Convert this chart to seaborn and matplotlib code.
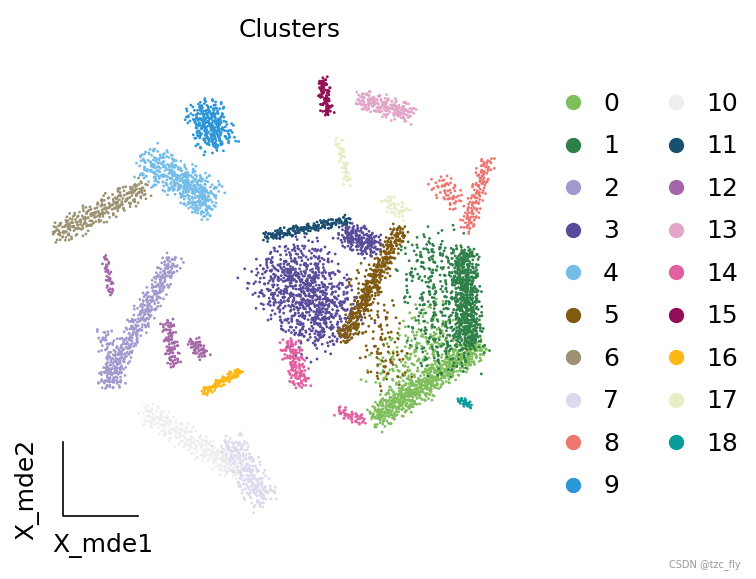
import matplotlib
matplotlib.use("Agg")
import matplotlib.pyplot as plt
import numpy as np
import pandas as pd
import seaborn as sns

clusters = [str(i) for i in range(19)]
colors = ["#7fbf5b", "#2e8048", "#a399cf", "#5a4a9a", "#74bde8", "#7f5a10",
          "#9c9272", "#dcdaed", "#ee7670", "#2a96d6", "#eeeeee", "#1b4f72",
          "#a466a8", "#e3a6c8", "#e060a0", "#920f55", "#fbb814", "#e8edc4",
          "#0b9b9b"]

# shape of each cluster in the embedding:
# (x0, y0, x1, y1, spread, n_cells) per stroke, in embedding units
strokes = {
    "0": [(370, 418, 470, 345, 16, 700), (385, 390, 440, 320, 40, 300)],
    "1": [(455, 250, 460, 345, 16, 600), (420, 240, 445, 365, 40, 400)],
    "2": [(112, 385, 178, 258, 12, 450), (110, 330, 125, 385, 10, 80)],
    "3": [(280, 260, 330, 330, 48, 900), (340, 232, 372, 248, 16, 200)],
    "4": [(150, 160, 215, 200, 22, 400), (185, 175, 210, 215, 14, 120)],
    "5": [(395, 228, 340, 340, 10, 420), (360, 270, 385, 380, 26, 140)],
    "6": [(65, 235, 150, 188, 14, 300)],
    "7": [(230, 440, 265, 500, 18, 300)],
    "8": [(478, 160, 458, 230, 9, 150), (430, 180, 450, 205, 14, 60)],
    "9": [(205, 108, 220, 145, 22, 320)],
    "10": [(150, 410, 240, 470, 14, 300)],
    "11": [(265, 237, 345, 220, 6, 200)],
    "12": [(172, 320, 178, 365, 8, 100), (195, 340, 208, 355, 8, 60),
           (112, 255, 118, 295, 4, 40)],
    "13": [(355, 100, 405, 115, 12, 220)],
    "14": [(288, 340, 300, 385, 12, 150), (335, 410, 360, 420, 7, 50)],
    "15": [(320, 80, 325, 115, 7, 100)],
    "16": [(205, 392, 242, 370, 5, 100)],
    "17": [(335, 140, 345, 185, 5, 50), (380, 200, 400, 215, 10, 50)],
    "18": [(450, 398, 462, 405, 4, 30)],
}


def radical_inverse(k, base):
    out = np.zeros(len(k))
    f = 1.0 / base
    k = k.copy()
    while k.any():
        out += f * (k % base)
        k //= base
        f /= base
    return out


rows = []
start = 1
for c in clusters:
    for x0, y0, x1, y1, w, n in strokes[c]:
        k = np.arange(start, start + n)
        start += n
        t = radical_inverse(k, 2)
        u = radical_inverse(k, 3)
        v = radical_inverse(k, 5)
        s = radical_inverse(k, 7)
        d = np.array([x1 - x0, y1 - y0], float)
        L = np.hypot(*d)
        nrm = np.array([-d[1], d[0]]) / L
        off = (u + v - 1) * w
        along = (s - 0.5) * w * 0.8
        dx = x0 + t * d[0] + off * nrm[0] + along * d[0] / L
        dy = y0 + t * d[1] + off * nrm[1] + along * d[1] / L
        for a, b in zip(dx, dy):
            rows.append((a, -b, c))
df = pd.DataFrame(rows, columns=["X_mde1", "X_mde2", "cluster"])

fig = plt.figure(figsize=(7.56, 5.79), dpi=100)
ax = fig.add_axes([0.06, 0.09, 0.65, 0.80])
sns.scatterplot(data=df, x="X_mde1", y="X_mde2", hue="cluster",
                hue_order=clusters, palette=colors, s=4, linewidth=0,
                ax=ax, legend=False)
ax.set_xlim(55, 525)
ax.set_ylim(-525, -65)
ax.set_axis_off()
fig.text(0.383, 0.948, "Clusters", ha="center", va="center", fontsize=18)

# small axis arrows in the corner
fig.add_artist(plt.Line2D([0.083, 0.083, 0.183], [0.237, 0.108, 0.108],
                          color="black", lw=1.2))
fig.text(0.035, 0.155, "X_mde2", rotation=90, fontsize=18, ha="center", va="center")
fig.text(0.136, 0.058, "X_mde1", fontsize=18, ha="center", va="center")

handles = [plt.Line2D([], [], marker="o", ls="", color=col, markersize=10)
           for col in colors]
fig.legend(handles, clusters, loc="upper left", bbox_to_anchor=(0.695, 0.88),
           ncol=2, frameon=False, fontsize=18, handletextpad=0.2,
           columnspacing=1.3, labelspacing=0.74)
fig.text(0.98, 0.02, "CSDN @tzc_fly", fontsize=7, color="#999999", ha="right")
fig.savefig("out.png", dpi=100)
